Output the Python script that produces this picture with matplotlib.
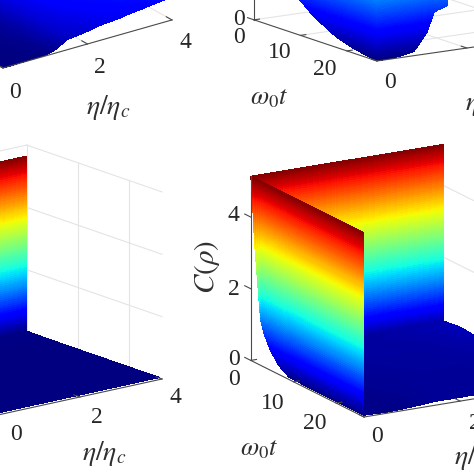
import numpy as np
import matplotlib
matplotlib.use('Agg')
import matplotlib.pyplot as plt
from mpl_toolkits.mplot3d import proj3d

plt.rcParams['font.family'] = ['Liberation Serif', 'DejaVu Serif']
plt.rcParams['mathtext.fontset'] = 'stix'

W = 474
INK = '#4a4a4a'
GRID = '#e4e4e4'

eta_ticks = [0, 2, 4]
t_ticks = [0, 10, 20]
t_end = 26.5

# panel (a) top left: visible part of the surface, rows are t
tl_eta = [0, .25, .5, .75, 1, 1.25, 1.5, 1.75, 2, 2.25, 2.5, 2.75, 3, 3.25, 3.5, 3.75, 4]
tl_t = [8, 12, 16, 20, 23, 26.5]
tl_C = [
    [.05, .05, .08, .12, .2, .35, .55, .7, .8, .9, 1.0, 1.05, 1.1, 1.15, 1.2, 1.25, 1.3],
    [.04, .04, .06, .1, .15, .3, .45, .58, .7, .78, .86, .92, 1.0, 1.04, 1.08, 1.12, 1.15],
    [.03, .03, .05, .08, .12, .25, .4, .5, .6, .68, .76, .82, .9, .94, .98, 1.02, 1.05],
    [.02, .02, .04, .06, .1, .22, .38, .45, .52, .6, .66, .72, .8, .84, .88, .92, .95],
    [.01, .01, .02, .04, .08, .2, .34, .4, .45, .5, .56, .6, .68, .72, .76, .8, .84],
    [0, 0, .01, .01, .03, .1, .3, .34, .38, .45, .47, .5, .55, .58, .62, .66, .7],
]

# panel (b) top right: lower edges of the two sheets
tr_t = [0, 4, 8, 9.9, 12.9, 17.8, 21.7, 26.5]
tr_C_t = [3.2, 2.4, 1.3, .97, .64, .28, .12, 0]
tr_eta = [0, .4, .82, 1.11, 1.27, 1.36, 1.56]
tr_C_eta = [0, .02, .11, .58, 1.11, 1.17, 1.25]
tr_top = 4.0

# panels (c), (d) bottom: values along eta = 0 and floor
br_t_edge = [0, .5, .9, 2.3, 3.2, 4.6, 6.5, 9, 14, 20, 26.5]
br_C_edge = [5.14, 4.2, 3.3, 1.25, .9, .55, .25, .06, .05, .05, .05]
br_top = 5.14
br_eta = [0, .5, 1, 1.5, 2, 2.5, 3, 3.5, 4]
br_t = [.2, 2, 4, 6.5, 9, 14, 19, 23, 26.5]
br_C = [
    [.15, .12, .15, .14, .16, .14, .18, .2, .22],
    [.1, .12, .14, .16, .14, .16, .18, .22, .25],
    [.06, .1, .12, .14, .16, .15, .17, .2, .28],
    [.05, .08, .1, .13, .15, .16, .15, .18, .26],
    [.05, .07, .1, .12, .14, .13, .15, .17, .2],
    [.05, .06, .1, .1, .12, .13, .12, .15, .18],
    [.05, .05, .08, .1, .11, .1, .12, .13, .15],
    [.05, .05, .07, .1, .1, .12, .12, .14, .15],
    [.05, .03, .06, .11, .1, .12, .13, .14, .15],
]

bl_top = 5.65
bl_t_edge = [0, .5, 1, 2, 4, 8, 14, 26]
bl_C_edge = [5.65, 4.2, 3.0, 1.3, .5, .1, .03, .02]
bl_eta = [0, 1, 2, 3, 4]
bl_t = [.2, 5, 15, 26]
bl_C = [
    [.03, .03, .03, .03, .03],
    [.03, .02, .02, .02, .02],
    [.02, .02, .02, .02, .02],
    [.02, .02, .02, .02, .02],
]

fig = plt.figure(figsize=(W / 100, W / 100), dpi=100)


def dense(v, n):
    # same job as MATLAB's shading interp, flat facets would show
    v = np.asarray(v, float)
    return np.interp(np.linspace(0, len(v) - 1, n), np.arange(len(v)), v)


def paint(ax, X, Y, Z, clim, zo):
    s = ax.plot_surface(X, Y, Z, facecolors=plt.cm.jet(np.clip(Z / clim, 0, 1)), rstride=1, cstride=1,
                        shade=False, linewidth=0, antialiased=False)
    s.set_zorder(zo)


def floor_surface(ax, etas, ts, C, clim, zo=2, n=70):
    Z = np.array([np.interp(np.linspace(0, len(etas) - 1, n), np.arange(len(etas)), r) for r in C])
    Z = np.array([np.interp(np.linspace(0, len(ts) - 1, n), np.arange(len(ts)), c) for c in Z.T]).T
    X, Y = np.meshgrid(dense(etas, n), dense(ts, n))
    paint(ax, X, Y, Z, clim, zo)


def wall_eta(ax, ts, lower, top, clim, zo, n=90):
    # sheet standing on eta = 0, from lower edge up to top
    tt = dense(ts, n)
    low = dense(lower, n)
    s = np.linspace(0, 1, n)[:, None]
    Z = low + (top - low) * s
    paint(ax, np.zeros_like(Z), np.tile(tt, (n, 1)), Z, clim, zo)


def under_eta(ax, ts, lower, zo, n=90):
    # looking under the surface there is nothing to see, so white below the edge
    tt = dense(ts, n)
    low = dense(lower, n)
    Y = np.tile(tt, (2, 1))
    Z = np.vstack([np.zeros(n), low])
    s = ax.plot_surface(np.zeros_like(Z), Y, Z, color='white', rstride=1, cstride=1, shade=False,
                        linewidth=0, antialiased=False)
    s.set_zorder(zo)


def wall_t(ax, etas, t0, lower, top, clim, zo, n=90):
    ee = dense(etas, n)
    low = dense(lower, n)
    s = np.linspace(0, 1, n)[:, None]
    Z = low + (top - low) * s
    paint(ax, np.tile(ee, (n, 1)), np.full_like(Z, t0), Z, clim, zo)


def setup(elev, azim, aspect):
    ax = fig.add_axes([0, 0, 1, 1], projection='3d', computed_zorder=False, proj_type='ortho')
    ax.set_axis_off()
    ax.view_init(elev=elev, azim=azim)
    ax.set_box_aspect(aspect)
    return ax


def place(ax, zmax, a, b):
    ax.set_xlim(0, 4, view_margin=0)
    ax.set_ylim(t_end, 0, view_margin=0)
    ax.set_zlim(0, zmax, view_margin=0)
    ax.set_position([0, 0, 1, 1])
    proj = ax.get_proj()

    def to_px(p):
        x, y, _ = proj3d.proj_transform(p[0], p[1], p[2], proj)
        return ax.transData.transform((x, y))

    pa, pb = to_px(a[0]), to_px(b[0])
    ta = np.array([a[1][0], W - a[1][1]], float)
    tb = np.array([b[1][0], W - b[1][1]], float)
    k = np.linalg.norm(tb - ta) / np.linalg.norm(pb - pa)
    low = ta - k * pa
    ax.set_position([low[0] / W, low[1] / W, k, k])


def frame(ax, z_ticks=(), z_top=None):
    for e in eta_ticks[1:]:
        ax.plot([e, e], [0, t_end], [0, 0], color=GRID, lw=.8, zorder=1)
    for t in t_ticks[:]:
        ax.plot([0, 4], [t, t], [0, 0], color=GRID, lw=.8, zorder=1)
    for z in z_ticks:
        ax.plot([4, 4], [0, t_end], [z, z], color=GRID, lw=.8, zorder=1)
    if z_top is not None:
        for t in t_ticks[1:]:
            ax.plot([4, 4], [t, t], [0, z_top], color=GRID, lw=.8, zorder=1)
        ax.plot([4, 4], [0, t_end], [z_top, z_top], color=GRID, lw=.8, zorder=1)
        ax.plot([4, 4], [0, 0], [0, z_top], color=GRID, lw=.8, zorder=1)
        ax.plot([0, 4], [0, 0], [z_top, z_top], color=GRID, lw=.8, zorder=1)


def axes_lines(ax, z_ticks=(), z_end=0):
    ax.plot([0, 4], [t_end, t_end], [0, 0], color=INK, lw=.8, zorder=8)
    ax.plot([0, 0], [0, t_end], [0, 0], color=INK, lw=.8, zorder=8)
    for e in eta_ticks:
        ax.plot([e, e], [t_end, t_end - 1.2], [0, 0], color=INK, lw=.8, zorder=8)
    for t in t_ticks:
        ax.plot([0, .12], [t, t], [0, 0], color=INK, lw=.8, zorder=8)
    if z_end:
        ax.plot([0, 0], [0, 0], [0, z_end], color=INK, lw=.8, zorder=8)
    for z in z_ticks:
        ax.plot([0, 0], [0, -1.4], [z, z], color=INK, lw=.8, zorder=8)


def lab(ax, p, s, dx, dy):
    # dx, dy: offset in pixels, dy counted downwards like in the picture
    x, y, _ = proj3d.proj_transform(p[0], p[1], p[2], ax.get_proj())
    ax.annotate(s, (x, y), xytext=(dx, -dy), textcoords='offset pixels', ha='center', va='center_baseline',
                fontsize=17, color='#262626', annotation_clip=False)


def title(x, y, s, rot=0, size=20):
    fig.text(x / W, 1 - y / W, s, fontsize=size, color='#303030', rotation=rot, ha='center', va='center')


# top left
ax = setup(23.5, -125.5, (207, 215, 198))
frame(ax)
floor_surface(ax, tl_eta, tl_t, tl_C, 5.0)
axes_lines(ax)
place(ax, 5.5, ((0, t_end, 0), (3, 68)), ((4, t_end, 0), (172, 20)))
lab(ax, (0, t_end, 0), '0', 12, 22)
lab(ax, (2, t_end, 0), '2', 12, 21)
lab(ax, (4, t_end, 0), '4', 13, 20)
title(108, 107, r'$\eta/\eta_c$')

# top right
ax = setup(12.7, -123.3, (215, 224, 185))
frame(ax)
wall_eta(ax, tr_t, tr_C_t, tr_top, 6.7, 3)
wall_t(ax, tr_eta, t_end, tr_C_eta, tr_top, 6.7, 4)
axes_lines(ax, z_ticks=[0], z_end=5.0)
place(ax, 5.0, ((0, t_end, 0), (377, 61)), ((0, 0, 0), (254, 20)))
lab(ax, (0, 0, 0), '0', -15, 15)
lab(ax, (0, 0, 0), '0', -15, -3)
lab(ax, (0, 10, 0), '10', -21, 15)
lab(ax, (0, 20, 0), '20', -22, 16)
lab(ax, (0, t_end, 0), '0', 13, 19)
lab(ax, (2, t_end, 0), '2', 22, 20)
title(269, 99, r'$\omega_0 t$', size=19)
title(487, 103, r'$\eta/\eta_c$')

# bottom left
ax = setup(16, -128.5, (209.5, 217, 194.5))
frame(ax, z_ticks=[2, 4], z_top=6.0)
wall_t(ax, bl_eta, 0, [bl_C[0][0]] * len(bl_eta), bl_top, bl_top, 3)
floor_surface(ax, bl_eta, bl_t, bl_C, bl_top, zo=4)
under_eta(ax, bl_t_edge, bl_C_edge, 5)
wall_eta(ax, bl_t_edge, bl_C_edge, bl_top, bl_top, 6)
axes_lines(ax)
place(ax, 6.0, ((4, t_end, 0), (162, 379)), ((4, 0, 6.0), (27, 145)))
lab(ax, (0, t_end, 0), '0', 18, 17)
lab(ax, (2, t_end, 0), '2', 17, 18)
lab(ax, (4, t_end, 0), '4', 13, 16)
title(104, 453, r'$\eta/\eta_c$')

# bottom right
ax = setup(16.7, -119.9, (222.6, 228, 193))
frame(ax, z_ticks=[2, 4])
wall_t(ax, br_eta, 0, br_C[0], br_top, br_top, 3)
floor_surface(ax, br_eta, br_t, br_C, br_top, zo=4)
under_eta(ax, br_t_edge, br_C_edge, 5)
wall_eta(ax, br_t_edge, br_C_edge, br_top, br_top, 6)
axes_lines(ax, z_ticks=[0, 2, 4], z_end=br_top)
place(ax, br_top, ((0, t_end, 0), (364, 417)), ((4, 0, br_top), (445, 145)))
lab(ax, (0, 0, 4), '4', -17, -4)
lab(ax, (0, 0, 2), '2', -17, -2)
lab(ax, (0, 0, 0), '0', -17, -3)
lab(ax, (0, 0, 0), '0', -17, 17)
lab(ax, (0, 10, 0), '10', -21, 19)
lab(ax, (0, 20, 0), '20', -21, 18)
lab(ax, (0, t_end, 0), '0', 13, 17)
lab(ax, (2, t_end, 0), '2', 15, 20)
title(207, 267, r'$C(\rho)$', rot=90, size=21)
title(259, 450, r'$\omega_0 t$', size=19)
title(476, 458, r'$\eta/\eta_c$')

fig.savefig('out.png', dpi=100)
